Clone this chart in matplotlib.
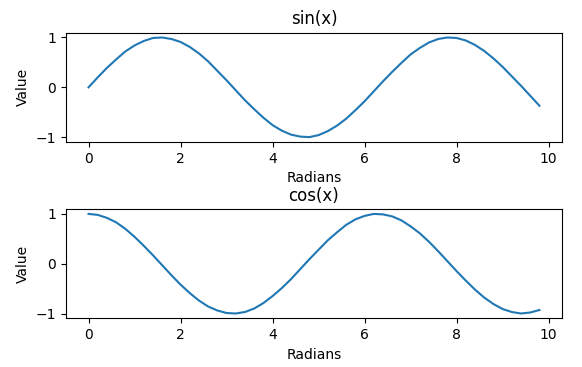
import matplotlib
matplotlib.use('Agg')
import matplotlib.pyplot as plt

# sample points (radians)
x = [0.0, 0.2, 0.4, 0.6, 0.8, 1.0, 1.2, 1.4, 1.6, 1.8,
     2.0, 2.2, 2.4, 2.6, 2.8, 3.0, 3.2, 3.4, 3.6, 3.8,
     4.0, 4.2, 4.4, 4.6, 4.8, 5.0, 5.2, 5.4, 5.6, 5.8,
     6.0, 6.2, 6.4, 6.6, 6.8, 7.0, 7.2, 7.4, 7.6, 7.8,
     8.0, 8.2, 8.4, 8.6, 8.8, 9.0, 9.2, 9.4, 9.6, 9.8]

sin_vals = [0.00, 0.20, 0.39, 0.56, 0.72, 0.84, 0.93, 0.99, 1.00, 0.97,
            0.91, 0.81, 0.68, 0.52, 0.33, 0.14, -0.06, -0.26, -0.44, -0.61,
            -0.76, -0.87, -0.95, -0.99, -1.00, -0.96, -0.88, -0.77, -0.63, -0.46,
            -0.28, -0.08, 0.12, 0.31, 0.49, 0.66, 0.79, 0.90, 0.97, 1.00,
            0.99, 0.94, 0.85, 0.73, 0.58, 0.41, 0.22, 0.03, -0.17, -0.37]

cos_vals = [1.00, 0.98, 0.92, 0.83, 0.70, 0.54, 0.36, 0.17, -0.03, -0.23,
            -0.42, -0.59, -0.74, -0.86, -0.94, -0.99, -1.00, -0.97, -0.90, -0.79,
            -0.65, -0.49, -0.31, -0.11, 0.09, 0.28, 0.47, 0.63, 0.78, 0.89,
            0.96, 1.00, 0.99, 0.95, 0.87, 0.75, 0.61, 0.44, 0.25, 0.05,
            -0.15, -0.34, -0.52, -0.68, -0.81, -0.91, -0.97, -1.00, -0.98, -0.93]

titles = ['sin(x)', 'cos(x)']

fig, ax_arr = plt.subplots(2, 1, figsize=(5.82, 3.67), dpi=100)

for ax, y, title in zip(ax_arr, [sin_vals, cos_vals], titles):
    ax.plot(x, y)
    ax.set_title(title)
    ax.set(xlabel='Radians', ylabel='Value')

plt.subplots_adjust(left=0.1134, right=0.9656, top=0.9114, bottom=0.1322,
                    hspace=0.61)
plt.savefig('out.png')
